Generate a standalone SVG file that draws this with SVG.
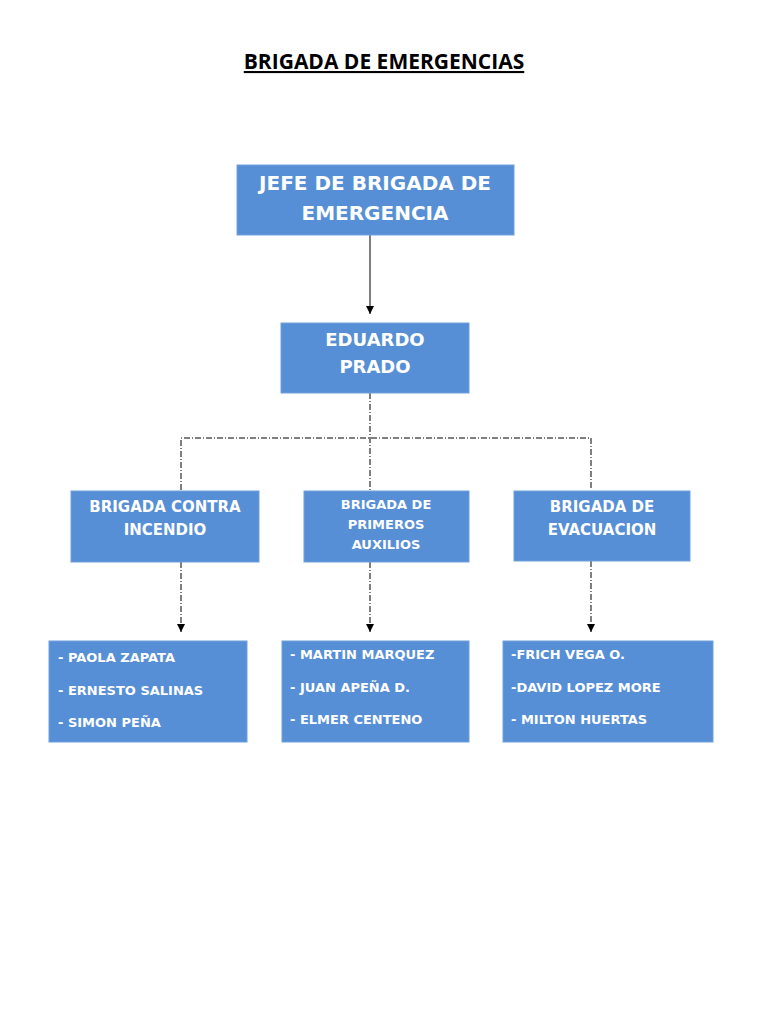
<svg xmlns="http://www.w3.org/2000/svg" width="768" height="1024" viewBox="0 0 768 1024">
<style>
.b{fill:#568fd6;stroke:#6f9fdc;stroke-width:1}
.t{font-family:"DejaVu Sans",Verdana,sans-serif;font-weight:bold;fill:#fff}
.c{stroke:#000;stroke-width:1;fill:none}
.d{stroke-dasharray:6,2,1,2}
</style>
<defs><marker id="a" viewBox="0 0 10 10" refX="10" refY="5" markerWidth="8" markerHeight="8" markerUnits="userSpaceOnUse" orient="auto"><path d="M0,0L10,5L0,10z" fill="#000"/></marker></defs>
<rect width="768" height="1024" fill="#fff"/>
<text x="384" y="69" text-anchor="middle" font-family="'Open Sans',sans-serif" font-weight="bold" font-size="21" text-decoration="underline">BRIGADA DE EMERGENCIAS</text>
<g id="connectors">
<path class="c" d="M370,235V314" marker-end="url(#a)"/>
<path class="c d" d="M370,393V490M181,490V438H591V490"/>
<path class="c d" d="M181,562V632" marker-end="url(#a)"/>
<path class="c d" d="M370,562V632" marker-end="url(#a)"/>
<path class="c d" d="M591,561V632" marker-end="url(#a)"/>
</g>
<g id="jefe"><rect class="b" x="237" y="165" width="277" height="70"/>
<text class="t" font-size="20" text-anchor="middle"><tspan x="375" y="190">JEFE DE BRIGADA DE</tspan><tspan x="375" y="220">EMERGENCIA</tspan></text></g>
<g id="eduardo"><rect class="b" x="281" y="323" width="188" height="70"/>
<text class="t" font-size="18" text-anchor="middle"><tspan x="375" y="346">EDUARDO</tspan><tspan x="375" y="373">PRADO</tspan></text></g>
<g id="incendio"><rect class="b" x="71" y="491" width="188" height="71"/>
<text class="t" font-size="15" text-anchor="middle"><tspan x="165" y="512">BRIGADA CONTRA</tspan><tspan x="165" y="535">INCENDIO</tspan></text></g>
<g id="auxilios"><rect class="b" x="304" y="491" width="165" height="71"/>
<text class="t" font-size="13" text-anchor="middle"><tspan x="386" y="509">BRIGADA DE</tspan><tspan x="386" y="529">PRIMEROS</tspan><tspan x="386" y="549">AUXILIOS</tspan></text></g>
<g id="evacuacion"><rect class="b" x="514" y="491" width="176" height="70"/>
<text class="t" font-size="15" text-anchor="middle"><tspan x="602" y="512">BRIGADA DE</tspan><tspan x="602" y="535">EVACUACION</tspan></text></g>
<g id="m1"><rect class="b" x="49" y="641" width="198" height="101"/>
<text class="t" font-size="13"><tspan x="58" y="662">- PAOLA ZAPATA</tspan><tspan x="58" y="695">- ERNESTO SALINAS</tspan><tspan x="58" y="727">- SIMON PEÑA</tspan></text></g>
<g id="m2"><rect class="b" x="282" y="641" width="187" height="101"/>
<text class="t" font-size="13"><tspan x="290" y="659">- MARTIN MARQUEZ</tspan><tspan x="290" y="692">- JUAN APEÑA D.</tspan><tspan x="290" y="724">- ELMER CENTENO</tspan></text></g>
<g id="m3"><rect class="b" x="503" y="641" width="210" height="101"/>
<text class="t" font-size="13"><tspan x="511" y="659">-FRICH VEGA O.</tspan><tspan x="511" y="692">-DAVID LOPEZ MORE</tspan><tspan x="511" y="724">- MILTON HUERTAS</tspan></text></g>
</svg>
